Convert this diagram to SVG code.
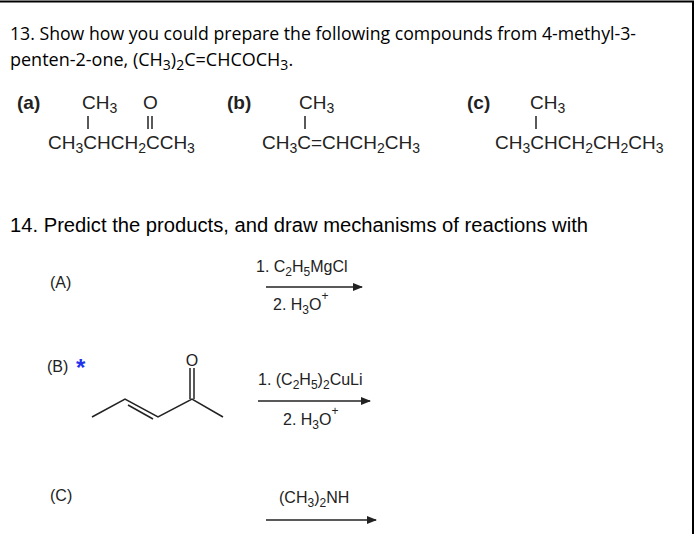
<svg xmlns="http://www.w3.org/2000/svg" width="700" height="534" viewBox="0 0 700 534">
<defs><marker id="ah" markerWidth="10" markerHeight="8" refX="9" refY="4" orient="auto" markerUnits="userSpaceOnUse"><path d="M0,0 L10,4 L0,8 z" fill="#222"/></marker></defs>
<style>
.t{font-family:"Open Sans","Liberation Sans",sans-serif;font-size:18px;fill:#000}
.c{font-family:"Liberation Sans",Arial,sans-serif;font-size:19px;fill:#222}
.r{font-family:"Liberation Sans",Arial,sans-serif;font-size:16px;fill:#222}
.h{font-family:"Liberation Sans",Arial,sans-serif;font-size:20px;fill:#000}
.l{stroke:#222;stroke-width:1.5;fill:none}
.s{font-size:14px}
.q{font-size:12px}
</style>
<rect width="700" height="534" fill="#fff"/>
<path d="M0,1.5 H693 V534" stroke="#000" stroke-width="2" fill="none"/>
<text class="t" x="10" y="40" textLength="626" lengthAdjust="spacingAndGlyphs">13. Show how you could prepare the following compounds from 4-methyl-3-</text>
<text class="t" x="10" y="66">penten-2-one, (CH<tspan class="s" dy="4">3</tspan><tspan dy="-4">)</tspan><tspan class="s" dy="4">2</tspan><tspan dy="-4">C=CHCOCH</tspan><tspan class="s" dy="4">3</tspan><tspan dy="-4">.</tspan></text>
<g id="a">
<text class="c" x="17" y="109" font-weight="bold">(a)</text>
<text class="c" x="82" y="109">CH<tspan class="s" dy="4">3</tspan></text>
<text class="c" x="143" y="109">O</text>
<line class="l" x1="88" y1="116" x2="88" y2="129"/>
<line class="l" x1="148" y1="116" x2="148" y2="129"/><line class="l" x1="152" y1="116" x2="152" y2="129"/>
<text class="c" x="48" y="149">CH<tspan class="s" dy="4">3</tspan><tspan dy="-4">CHCH</tspan><tspan class="s" dy="4">2</tspan><tspan dy="-4">CCH</tspan><tspan class="s" dy="4">3</tspan></text>
</g>
<g id="b">
<text class="c" x="227" y="109" font-weight="bold">(b)</text>
<text class="c" x="299" y="109">CH<tspan class="s" dy="4">3</tspan></text>
<line class="l" x1="305" y1="116" x2="305" y2="129"/>
<text class="c" x="262" y="149">CH<tspan class="s" dy="4">3</tspan><tspan dy="-4">C=CHCH</tspan><tspan class="s" dy="4">2</tspan><tspan dy="-4">CH</tspan><tspan class="s" dy="4">3</tspan></text>
</g>
<g id="c">
<text class="c" x="467" y="109" font-weight="bold">(c)</text>
<text class="c" x="530" y="109">CH<tspan class="s" dy="4">3</tspan></text>
<line class="l" x1="536" y1="116" x2="536" y2="129"/>
<text class="c" x="495" y="149">CH<tspan class="s" dy="4">3</tspan><tspan dy="-4">CHCH</tspan><tspan class="s" dy="4">2</tspan><tspan dy="-4">CH</tspan><tspan class="s" dy="4">2</tspan><tspan dy="-4">CH</tspan><tspan class="s" dy="4">3</tspan></text>
</g>
<text class="h" x="10" y="232" textLength="578" lengthAdjust="spacingAndGlyphs">14. Predict the products, and draw mechanisms of reactions with</text>
<g id="A">
<text class="r" x="50" y="288">(A)</text>
<text class="r" x="256" y="272">1. C<tspan class="q" dy="4">2</tspan><tspan dy="-4">H</tspan><tspan class="q" dy="4">5</tspan><tspan dy="-4">MgCl</tspan></text>
<text class="r" x="273" y="310">2. H<tspan class="q" dy="4">3</tspan><tspan dy="-4">O</tspan><tspan class="q" dy="-10">+</tspan></text>
</g>
<g id="B">
<text class="r" x="47" y="372">(B)</text>
<text x="76" y="376" font-family="Liberation Sans,sans-serif" font-size="24" font-weight="bold" fill="#2233ee">*</text>
<polyline class="l" points="92,417 125,399 158,417 192,399 223,417"/>
<line class="l" x1="128" y1="405" x2="153" y2="419"/>
<line class="l" x1="190" y1="399" x2="190" y2="368"/><line class="l" x1="194" y1="399" x2="194" y2="368"/>
<text class="r" x="192" y="366" text-anchor="middle">O</text>
<text class="r" x="258" y="385">1. (C<tspan class="q" dy="4">2</tspan><tspan dy="-4">H</tspan><tspan class="q" dy="4">5</tspan><tspan dy="-4">)</tspan><tspan class="q" dy="4">2</tspan><tspan dy="-4">CuLi</tspan></text>
<text class="r" x="283" y="425">2. H<tspan class="q" dy="4">3</tspan><tspan dy="-4">O</tspan><tspan class="q" dy="-10">+</tspan></text>
</g>
<g id="C">
<text class="r" x="50" y="501">(C)</text>
<text class="r" x="279" y="503">(CH<tspan class="q" dy="4">3</tspan><tspan dy="-4">)</tspan><tspan class="q" dy="4">2</tspan><tspan dy="-4">NH</tspan></text>
</g>
<g id="connectors">
<line class="l" x1="266" y1="287" x2="362" y2="287" marker-end="url(#ah)"/>
<line class="l" x1="258" y1="401" x2="370" y2="401" marker-end="url(#ah)"/>
<line class="l" x1="266" y1="520" x2="376" y2="520" marker-end="url(#ah)"/>
</g>
</svg>
